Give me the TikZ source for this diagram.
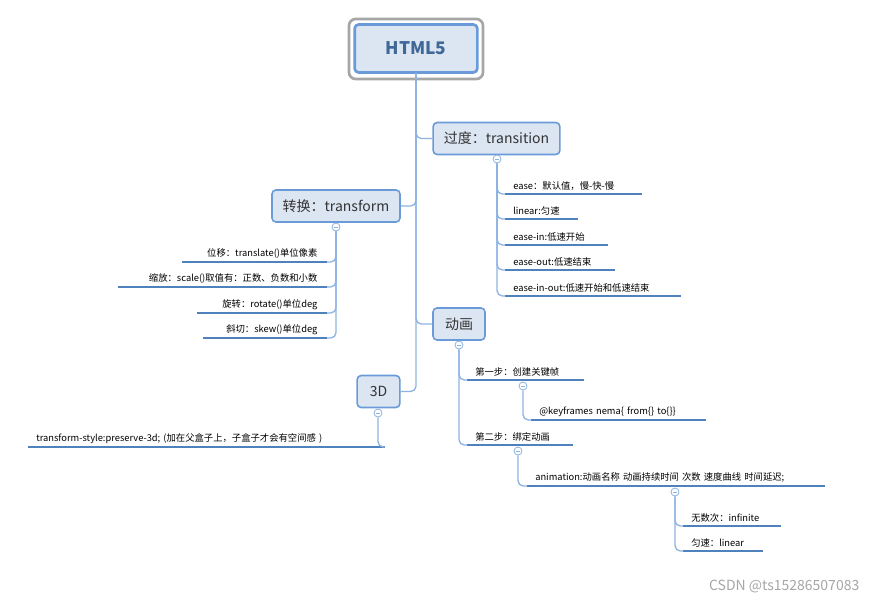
\documentclass[tikz,border=0pt]{standalone}
\usepackage{fontspec}
\setmainfont{Noto Sans CJK SC}
\begin{document}
\begin{tikzpicture}[x=0.75pt,y=-0.75pt,
  box/.style={draw=boxb,fill=boxf,line width=1.2pt,rounded corners=3pt,font=\fontsize{10.5}{12}\selectfont,inner sep=0pt,text=black!80},
  conn/.style={draw=lineb,line width=1pt,rounded corners=4pt},
  uline/.style={draw=ulb,line width=1.6pt},
  leaf/.style={font=\fontsize{7}{8}\selectfont,inner xsep=6pt,inner ysep=2.5pt,align=left},
  leafr/.style={font=\fontsize{7}{8}\selectfont,inner xsep=7pt,inner ysep=2.5pt,align=right},
  cc/.style={circle,draw=lineb,fill=white,line width=0.6pt,minimum size=6pt,inner sep=0pt,
    path picture={\draw[lineb,line width=0.6pt] ([xshift=-1.5pt]path picture bounding box.center)--([xshift=1.5pt]path picture bounding box.center);}}]
\definecolor{boxf}{HTML}{DCE6F2}
\definecolor{boxb}{HTML}{6A9BD8}
\definecolor{lineb}{HTML}{8DB3E2}
\definecolor{ulb}{HTML}{4F81BD}
\useasboundingbox (0,0) rectangle (877,604);
% root
\fill[draw=gray!70,line width=2pt,fill=white,rounded corners=5pt] (349,19) rectangle (483,79);
\node[box,line width=2pt,minimum width=92pt,minimum height=36pt,font=\bfseries\fontsize{13}{15}\selectfont,text=ulb!80!black] (root) at (416,48.5) {HTML5};
% main branches
\node[box,minimum width=95pt,minimum height=24pt] (tr) at (496.5,138.5) {过度：transition};
\node[box,minimum width=96pt,minimum height=24pt] (tf) at (336,206) {转换：transform};
\node[box,minimum width=39pt,minimum height=24pt] (an) at (459,324) {动画};
\node[box,minimum width=32pt,minimum height=24pt] (td) at (378.5,391.5) {3D};
\coordinate (t0) at (416,73);
\draw[conn] (t0) |- (tr.west);
\draw[conn] (t0) |- (tf.east);
\draw[conn] (t0) |- (an.west);
\draw[conn] (t0) |- (td.east);
% transition leaves
\node[cc] (c1) at (497,159) {};
\foreach \n/\y/\w/\t in {a/194/132/{ease：默认值，慢-快-慢},b/219/68/{linear:匀速},c/245/98/{ease-in:低速开始},d/270/105/{ease-out:低速结束},e/296/171/{ease-in-out:低速开始和低速结束}}{
  \node[leaf,anchor=south west,text width={(\w-12)*0.75pt}] (tr\n) at (505,\y) {\t};
  \draw[uline] (tr\n.south west) -- (tr\n.south east);
  \draw[conn] (c1.south) |- (tr\n.south west);
}
% transform leaves
\node[cc] (c2) at (336,227) {};
\foreach \n/\y/\w/\t in {a/262/140/{位移：translate()单位像素},b/287/204/{缩放：scale()取值有：正数、负数和小数},c/313/125/{旋转：rotate()单位deg},d/338/119/{斜切：skew()单位deg}}{
  \node[leafr,anchor=south east,text width={(\w-14)*0.75pt}] (tf\n) at (327,\y) {\t};
  \draw[uline] (tf\n.south west) -- (tf\n.south east);
  \draw[conn] (c2.south) |- (tf\n.south east);
}
% 3D leaf
\node[cc] (c3) at (378,413) {};
\node[leaf,anchor=south west,text width=255pt] (tda) at (28,447) {transform-style:preserve-3d; (加在父盒子上，子盒子才会有空间感 )};
\draw[uline] (tda.south west) -- (tda.south east);
\draw[conn] (c3.south) |- (tda.south east);
% animation
\node[cc] (c4) at (459,345) {};
\node[leaf,anchor=south west,text width=75pt] (s1) at (467,380) {第一步：创建关键帧};
\draw[uline] (s1.south west) -- (s1.south east);
\draw[conn] (c4.south) |- (s1.south west);
\node[leaf,anchor=south west,text width=67pt] (s2) at (467,445) {第二步：绑定动画};
\draw[uline] (s2.south west) -- (s2.south east);
\draw[conn] (c4.south) |- (s2.south west);
\node[cc] (c5) at (523,386) {};
\node[leaf,anchor=south west,text width=119pt] (kf) at (531,420) {@keyframes nema\{ from\{\} to\{\}\}};
\draw[uline] (kf.south west) -- (kf.south east);
\draw[conn] (c5.south) |- (kf.south west);
\node[cc] (c6) at (518,451) {};
\node[leaf,anchor=south west,text width=211pt] (am) at (527,486) {animation:动画名称 动画持续时间 次数 速度曲线 时间延迟;};
\draw[uline] (am.south west) -- (am.south east);
\draw[conn] (c6.south) |- (am.south west);
\node[cc] (c7) at (675,492) {};
\foreach \n/\y/\w/\t in {a/526/93/{无数次：infinite},b/551/75/{匀速：linear}}{
  \node[leaf,anchor=south west,text width={(\w-12)*0.75pt}] (am\n) at (683,\y) {\t};
  \draw[uline] (am\n.south west) -- (am\n.south east);
  \draw[conn] (c7.south) |- (am\n.south west);
}
\node[anchor=east,font=\fontsize{10.5}{12}\selectfont,text=gray!70] (wm) at (864,586) {CSDN @ts15286507083};
\end{tikzpicture}
\end{document}
